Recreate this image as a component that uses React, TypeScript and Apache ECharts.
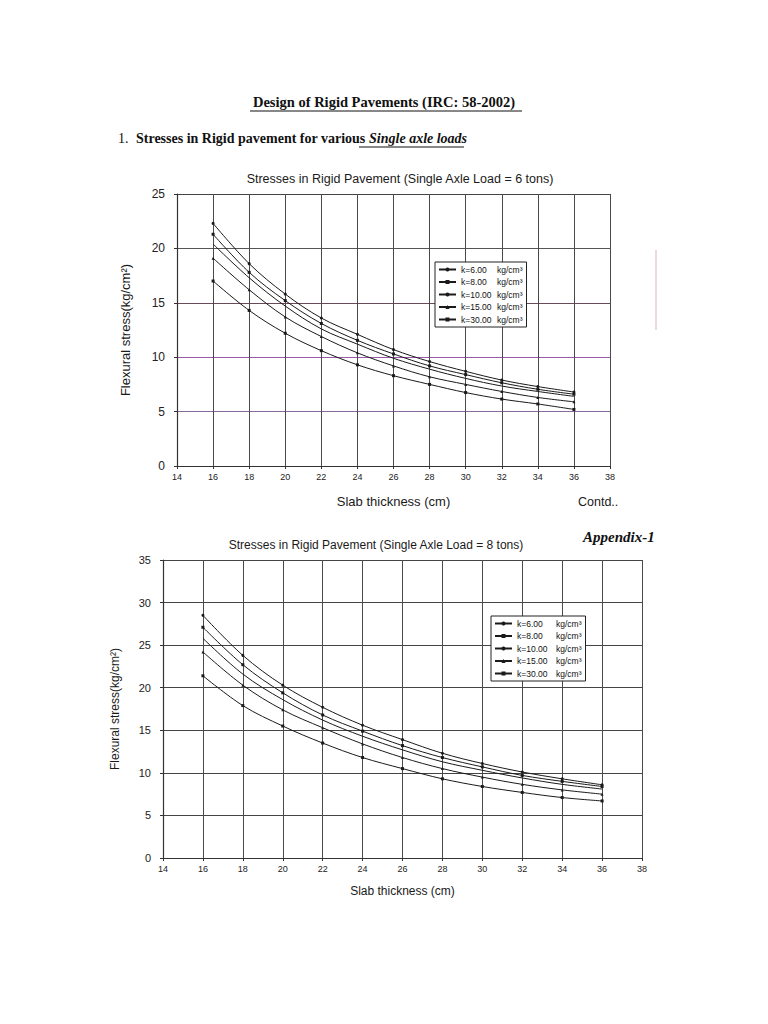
import React, { useEffect, useRef } from "react";
import * as echarts from "echarts";

const thickness = [16, 18, 20, 22, 24, 26, 28, 30, 32, 34, 36];
const seriesNames = ["k=6.00", "k=8.00", "k=10.00", "k=15.00", "k=30.00"];
const symbols = ["circle", "rect", "none", "triangle", "rect"];

// Chart 1: Single axle load = 6 tons
const load6_k6 = [22.3, 18.6, 15.8, 13.6, 12.1, 10.7, 9.6, 8.7, 7.9, 7.3, 6.8];
const load6_k8 = [21.3, 17.8, 15.2, 13.1, 11.55, 10.3, 9.2, 8.4, 7.65, 7.05, 6.6];
const load6_k10 = [20.4, 17.3, 14.7, 12.6, 11.2, 9.9, 8.9, 8.05, 7.35, 6.85, 6.4];
const load6_k15 = [19.1, 16.2, 13.7, 11.9, 10.4, 9.2, 8.2, 7.5, 6.85, 6.3, 5.9];
const load6_k30 = [17.0, 14.3, 12.2, 10.6, 9.3, 8.3, 7.5, 6.75, 6.15, 5.7, 5.2];

// Chart 2: Single axle load = 8 tons
const load8_k6 = [28.5, 23.8, 20.3, 17.7, 15.6, 13.9, 12.3, 11.1, 10.1, 9.3, 8.6];
const load8_k8 = [27.1, 22.7, 19.4, 16.8, 14.9, 13.2, 11.8, 10.7, 9.7, 9.0, 8.4];
const load8_k10 = [25.8, 21.6, 18.6, 16.2, 14.3, 12.7, 11.3, 10.3, 9.4, 8.65, 8.1];
const load8_k15 = [24.2, 20.3, 17.4, 15.3, 13.4, 11.8, 10.5, 9.5, 8.65, 8.0, 7.5];
const load8_k30 = [21.4, 17.9, 15.5, 13.5, 11.8, 10.5, 9.3, 8.4, 7.7, 7.1, 6.7];

const xTicks = [14, 16, 18, 20, 22, 24, 26, 28, 30, 32, 34, 36, 38];
const y1Ticks = [0, 5, 10, 15, 20, 25];
const y2Ticks = [0, 5, 10, 15, 20, 25, 30, 35];

const chart1Data = [load6_k6, load6_k8, load6_k10, load6_k15, load6_k30];
const chart2Data = [load8_k6, load8_k8, load8_k10, load8_k15, load8_k30];

const SANS = "'Liberation Sans', Arial, sans-serif";
const SERIF = "'Liberation Serif', 'Times New Roman', serif";

export default function App() {
  const ref = useRef<HTMLDivElement>(null);

  useEffect(() => {
    if (!ref.current) return;
    const chart = echarts.init(ref.current, null, { renderer: "svg" });

    const mkSeries = (data: number[][], xi: number) =>
      data.map((vals, i) => ({
        name: seriesNames[i],
        type: "line",
        xAxisIndex: xi,
        yAxisIndex: xi,
        smooth: 0.35,
        symbol: symbols[i],
        symbolSize: 3,
        showSymbol: true,
        lineStyle: { color: "#1a1a1a", width: 1 },
        itemStyle: { color: "#1a1a1a" },
        data: thickness.map((t, j) => [t, vals[j]]),
      }));

    const xAxisBase = (gi: number, labelSize: number, nameGap: number, nameSize: number) => ({
      type: "value",
      gridIndex: gi,
      min: xTicks[0],
      max: xTicks[xTicks.length - 1],
      interval: 2,
      name: "Slab thickness (cm)",
      nameLocation: "middle",
      nameGap,
      nameTextStyle: { fontFamily: SANS, fontSize: nameSize, color: "#1a1a1a" },
      axisLine: { show: true, lineStyle: { color: "#333", width: 1.2 } },
      axisTick: { show: true, inside: false, length: 3, lineStyle: { color: "#333" } },
      axisLabel: { fontFamily: SANS, fontSize: labelSize, color: "#222", margin: 6 },
      splitLine: { show: true, lineStyle: { color: "#4a4a4a", width: 1 } },
    });

    const yAxisBase = (gi: number, ticks: number[], labelSize: number, gap: number, nameSize: number, colors: string[]) => ({
      type: "value",
      gridIndex: gi,
      min: ticks[0],
      max: ticks[ticks.length - 1],
      interval: 5,
      name: "Flexural stress(kg/cm²)",
      nameLocation: "middle",
      nameGap: gap,
      nameRotate: 90,
      nameTextStyle: { fontFamily: SANS, fontSize: nameSize, color: "#1a1a1a" },
      axisLine: { show: true, lineStyle: { color: "#333", width: 1.2 } },
      axisTick: { show: true, length: 3, lineStyle: { color: "#333" } },
      axisLabel: { fontFamily: SANS, fontSize: labelSize, color: "#222", margin: 12 },
      splitLine: { show: true, lineStyle: { color: colors, width: 1 } },
    });

    const legendBase = (top: number, left: number, aWidth: number) => ({
      show: true,
      orient: "vertical",
      left,
      top,
      data: seriesNames,
      itemWidth: 17,
      itemHeight: 5,
      itemGap: 3.5,
      padding: [3, 4, 3, 3],
      borderColor: "#222",
      borderWidth: 1,
      backgroundColor: "#fff",
      selectedMode: false,
      formatter: (n: string) => `{a|${n}}{b|kg/cm³}`,
      textStyle: {
        fontFamily: SANS,
        fontSize: 8.5,
        color: "#111",
        rich: {
          a: { fontFamily: SANS, fontSize: 8.5, width: aWidth, color: "#111" },
          b: { fontFamily: SANS, fontSize: 8.5, color: "#111" },
        },
      },
    });

    const option: any = {
      animation: false,
      backgroundColor: "#ffffff",
      title: [
        {
          text: "Stresses in Rigid Pavement (Single Axle Load = 6 tons)",
          left: 395,
          top: 167,
          textAlign: "center",
          textStyle: { fontFamily: SANS, fontSize: 12.5, fontWeight: "normal", color: "#1a1a1a" },
        },
        {
          text: "Stresses in Rigid Pavement (Single Axle Load = 8 tons)",
          left: 371,
          top: 534,
          textAlign: "center",
          textStyle: { fontFamily: SANS, fontSize: 12, fontWeight: "normal", color: "#1a1a1a" },
        },
      ],
      legend: [legendBase(262, 435, 36), legendBase(616, 491, 39)],
      grid: [
        { left: 177, top: 194, width: 433, height: 272, containLabel: false },
        { left: 163, top: 560, width: 479, height: 298, containLabel: false },
      ],
      xAxis: [xAxisBase(0, 9, 29, 13), xAxisBase(1, 9, 27, 12)],
      yAxis: [
        yAxisBase(0, y1Ticks, 12, 45, 13, ["#444", "#8a6a9a", "#9a5aa8", "#6a4a5a", "#555", "#444"]),
        yAxisBase(1, y2Ticks, 11, 42, 12, ["#444", "#444", "#444", "#444", "#444", "#444", "#444", "#444"]),
      ],
      series: [...mkSeries(chart1Data, 0), ...mkSeries(chart2Data, 1)],
      graphic: [
        {
          type: "text",
          left: "center",
          top: 94,
          style: {
            text: "Design of Rigid Pavements (IRC: 58-2002)",
            fontFamily: SERIF,
            fontSize: 14.5,
            fontWeight: "bold",
            fill: "#111",
          },
        },
        { type: "line", shape: { x1: 250, y1: 111, x2: 522, y2: 111 }, style: { stroke: "#111", lineWidth: 1 } },
        {
          type: "text",
          x: 118,
          y: 131,
          style: {
            text: "1.",
            fontFamily: SERIF,
            fontSize: 14,
            fill: "#111",
          },
        },
        {
          type: "text",
          x: 136,
          y: 131,
          style: {
            text: "{n|Stresses in Rigid pavement for various }{i|Single axle loads}",
            fontFamily: SERIF,
            fontSize: 14,
            fill: "#111",
            rich: {
              n: { fontFamily: SERIF, fontSize: 14, fontWeight: "bold", fill: "#111" },
              i: { fontFamily: SERIF, fontSize: 14, fontWeight: "bold", fontStyle: "italic", fill: "#111" },
            },
          },
        },
        { type: "line", shape: { x1: 359, y1: 147, x2: 464, y2: 147 }, style: { stroke: "#111", lineWidth: 1 } },
        {
          type: "text",
          x: 578,
          y: 495,
          style: { text: "Contd..", fontFamily: SANS, fontSize: 12.5, fill: "#1a1a1a" },
        },
        {
          type: "text",
          x: 583,
          y: 529,
          style: {
            text: "Appendix-1",
            fontFamily: SERIF,
            fontSize: 15,
            fontWeight: "bold",
            fontStyle: "italic",
            fill: "#111",
          },
        },
        { type: "line", shape: { x1: 656, y1: 250, x2: 656, y2: 330 }, style: { stroke: "#f2d8dc", lineWidth: 2 } },
      ],
    };

    chart.setOption(option);
    return () => chart.dispose();
  }, []);

  return (
    <div
      ref={ref}
      style={{ position: "absolute", left: 0, top: 0, width: 768, height: 1024, background: "#fff" }}
    />
  );
}
